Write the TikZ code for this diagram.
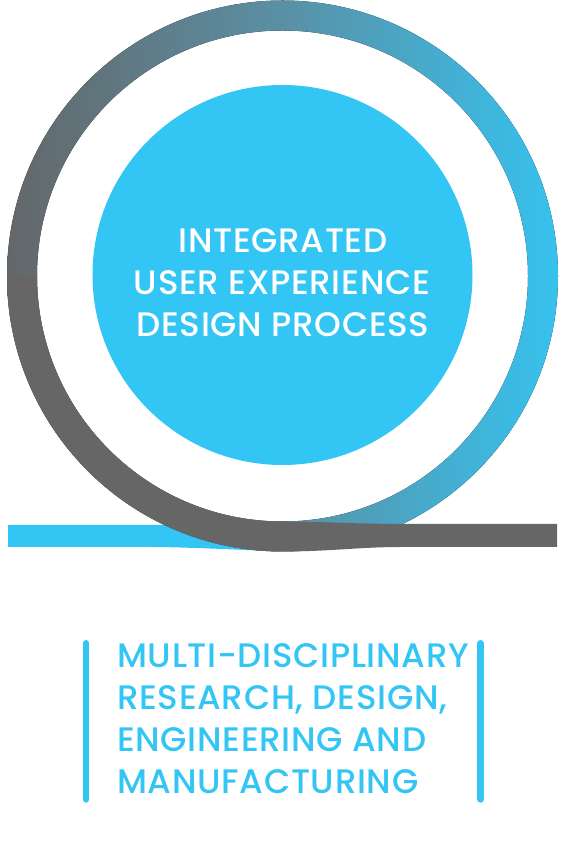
\documentclass[tikz,border=0pt]{standalone}
\usepackage{fontspec}
\setmainfont{Poppins}[UprightFont=*-Medium, LetterSpace=2]
\definecolor{ringgray}{HTML}{646769}
\definecolor{ringmid}{HTML}{5A90A5}
\definecolor{ringblue}{HTML}{36C2EE}
\definecolor{barblue}{HTML}{33C5F3}
\definecolor{darkgray}{HTML}{666666}
\tikzset{
  headtext/.style={anchor=base, inner sep=0pt, text=white, font=\fontsize{34}{42}\selectfont},
  subtext/.style={anchor=base west, inner sep=0pt, text=barblue, font=\fontsize{34}{42}\selectfont},
  sidebar/.style={draw=barblue, line width=6.8pt, line cap=round}
}
\begin{document}
\begin{tikzpicture}[x=1pt,y=1pt]
\useasboundingbox (0,0) rectangle (566,852);
\coordinate (C) at (282.5,576);
% blue ribbon coming from the left
\fill[barblue] (8,327) -- (240,327) -- (260,301.5)
  .. controls (220,303) and (180,305) .. (150,305) -- (8,305) -- cycle;
% ring with gradient
\fill[even odd rule, left color=ringgray, right color=ringblue, middle color=ringmid]
  (C) circle[radius=275.5] (C) circle[radius=245.5];
% gray bottom of the loop and outgoing bar
\fill[darkgray] (7,576) arc[start angle=180, end angle=270, radius=275.5]
  .. controls (330,300.5) and (360,305) .. (400,305) -- (557,305) -- (557,328)
  -- (400,328) .. controls (350,328.3) and (320,330.5) .. (282.5,330.5)
  arc[start angle=270, end angle=180, radius=245.5] -- cycle;
% inner disk
\fill[barblue] (C) ++(0,1) circle[radius=190];
\node[headtext] (h1) at (283,599.5) {INTEGRATED};
\node[headtext] (h2) at (282,557.5) {USER EXPERIENCE};
\node[headtext] (h3) at (283,515.5) {DESIGN PROCESS};
\node[subtext] (s1) at (117,184.5) {MULTI-DISCIPLINARY};
\node[subtext] (s2) at (117,142) {RESEARCH, DESIGN,};
\node[subtext] (s3) at (117,100.3) {ENGINEERING AND};
\node[subtext] (s4) at (117,58.5) {MANUFACTURING};
\coordinate (lt) at (86,208.6);
\coordinate (lb) at (86,52.7);
\coordinate (rt) at (480.5,208.6);
\coordinate (rb) at (480.5,52.7);
\draw[sidebar] (lt) -- (lb);
\draw[sidebar] (rt) -- (rb);
\end{tikzpicture}
\end{document}
